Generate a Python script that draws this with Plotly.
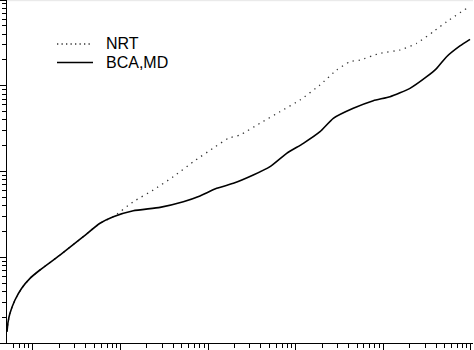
import plotly.graph_objects as go

# BCA,MD (solid) curve
bca_x = [0.505, 0.519, 0.546, 0.623, 0.743, 0.924, 1.20, 2.03, 3.75, 5.82, 8.26,
         13.96, 28.2, 52.0, 80.6, 125, 194, 327, 508, 787, 1220, 1890, 2680,
         4530, 7670, 11900, 20100, 31200, 40600, 52700, 74800, 97500]
bca_y = [1.354, 1.757, 2.22, 3.17, 4.35, 5.68, 7.10, 10.6, 17.4, 24.9, 29.7,
         34.9, 38.2, 44.4, 51.8, 63.7, 72.8, 91.0, 114, 163, 213, 291, 417,
         546, 670, 745, 933, 1275, 1597, 2180, 2910, 3480]

# NRT (dotted) curve
nrt_x = [0.505, 0.519, 0.546, 0.623, 0.743, 0.924, 1.20, 2.03, 3.75, 5.82, 8.26,
         13.96, 23.6, 40.0, 67.6, 114, 170, 231, 390, 660, 1117, 1890, 2930,
         4160, 5410, 9140, 15450, 24000, 37150, 52700, 89300]
nrt_y = [1.354, 1.757, 2.22, 3.17, 4.35, 5.68, 7.10, 10.6, 17.4, 24.9, 29.7,
         44.4, 60.8, 87.0, 130, 187, 244, 267, 365, 498, 682, 1020, 1527,
         1907, 1995, 2390, 2610, 3126, 4270, 5580, 8000]

legend_labels = ["NRT", "BCA,MD"]

fig = go.Figure()
fig.add_trace(go.Scatter(x=nrt_x, y=nrt_y, mode="lines", name=legend_labels[0],
                         line=dict(color="#333333", width=1.3, dash="1.3px,4.7px",
                                   shape="spline", smoothing=0.5)))
fig.add_trace(go.Scatter(x=bca_x, y=bca_y, mode="lines", name=legend_labels[1],
                         line=dict(color="black", width=1.6, shape="spline", smoothing=0.5)))

axis_common = dict(type="log", showline=True, linecolor="black", linewidth=1.3,
                   ticks="outside", tickcolor="black", tickwidth=1.3, ticklen=7,
                   dtick=1, showticklabels=False, showgrid=False, zeroline=False,
                   minor=dict(ticks="outside", ticklen=4, tickcolor="black",
                              tickwidth=1.2, showgrid=False))

fig.update_layout(
    width=474, height=350,
    margin=dict(l=7, r=1, t=0, b=7),
    paper_bgcolor="white", plot_bgcolor="white",
    showlegend=False,
    xaxis=dict(range=[-0.2967, 5.023], **axis_common),
    yaxis=dict(range=[0, 4], **axis_common),
    font=dict(family="Liberation Sans, Arial, sans-serif", size=16, color="black"),
)

# manual legend (paper coords): plot area spans x 7..473, y 0..343
def px(xp):
    return (xp - 7) / 466.0

def py(yp):
    return 1 - yp / 343.0

fig.add_shape(type="line", xref="paper", yref="paper",
              x0=px(57), x1=px(93), y0=py(44), y1=py(44),
              line=dict(color="#333333", width=1.3, dash="1.3px,3.2px"))
fig.add_shape(type="line", xref="paper", yref="paper",
              x0=px(57), x1=px(93), y0=py(62.5), y1=py(62.5),
              line=dict(color="black", width=1.6))
fig.add_annotation(xref="paper", yref="paper", x=px(104), y=py(43.5),
                   text=legend_labels[0], showarrow=False, xanchor="left", yanchor="middle",
                   font=dict(size=16))
fig.add_annotation(xref="paper", yref="paper", x=px(104), y=py(62),
                   text=legend_labels[1], showarrow=False, xanchor="left", yanchor="middle",
                   font=dict(size=16))
# faint top border
fig.add_shape(type="line", xref="paper", yref="paper", x0=0, x1=1, y0=0.998, y1=0.998,
              line=dict(color="#e6e6e6", width=1))

fig.write_html("out.html")
